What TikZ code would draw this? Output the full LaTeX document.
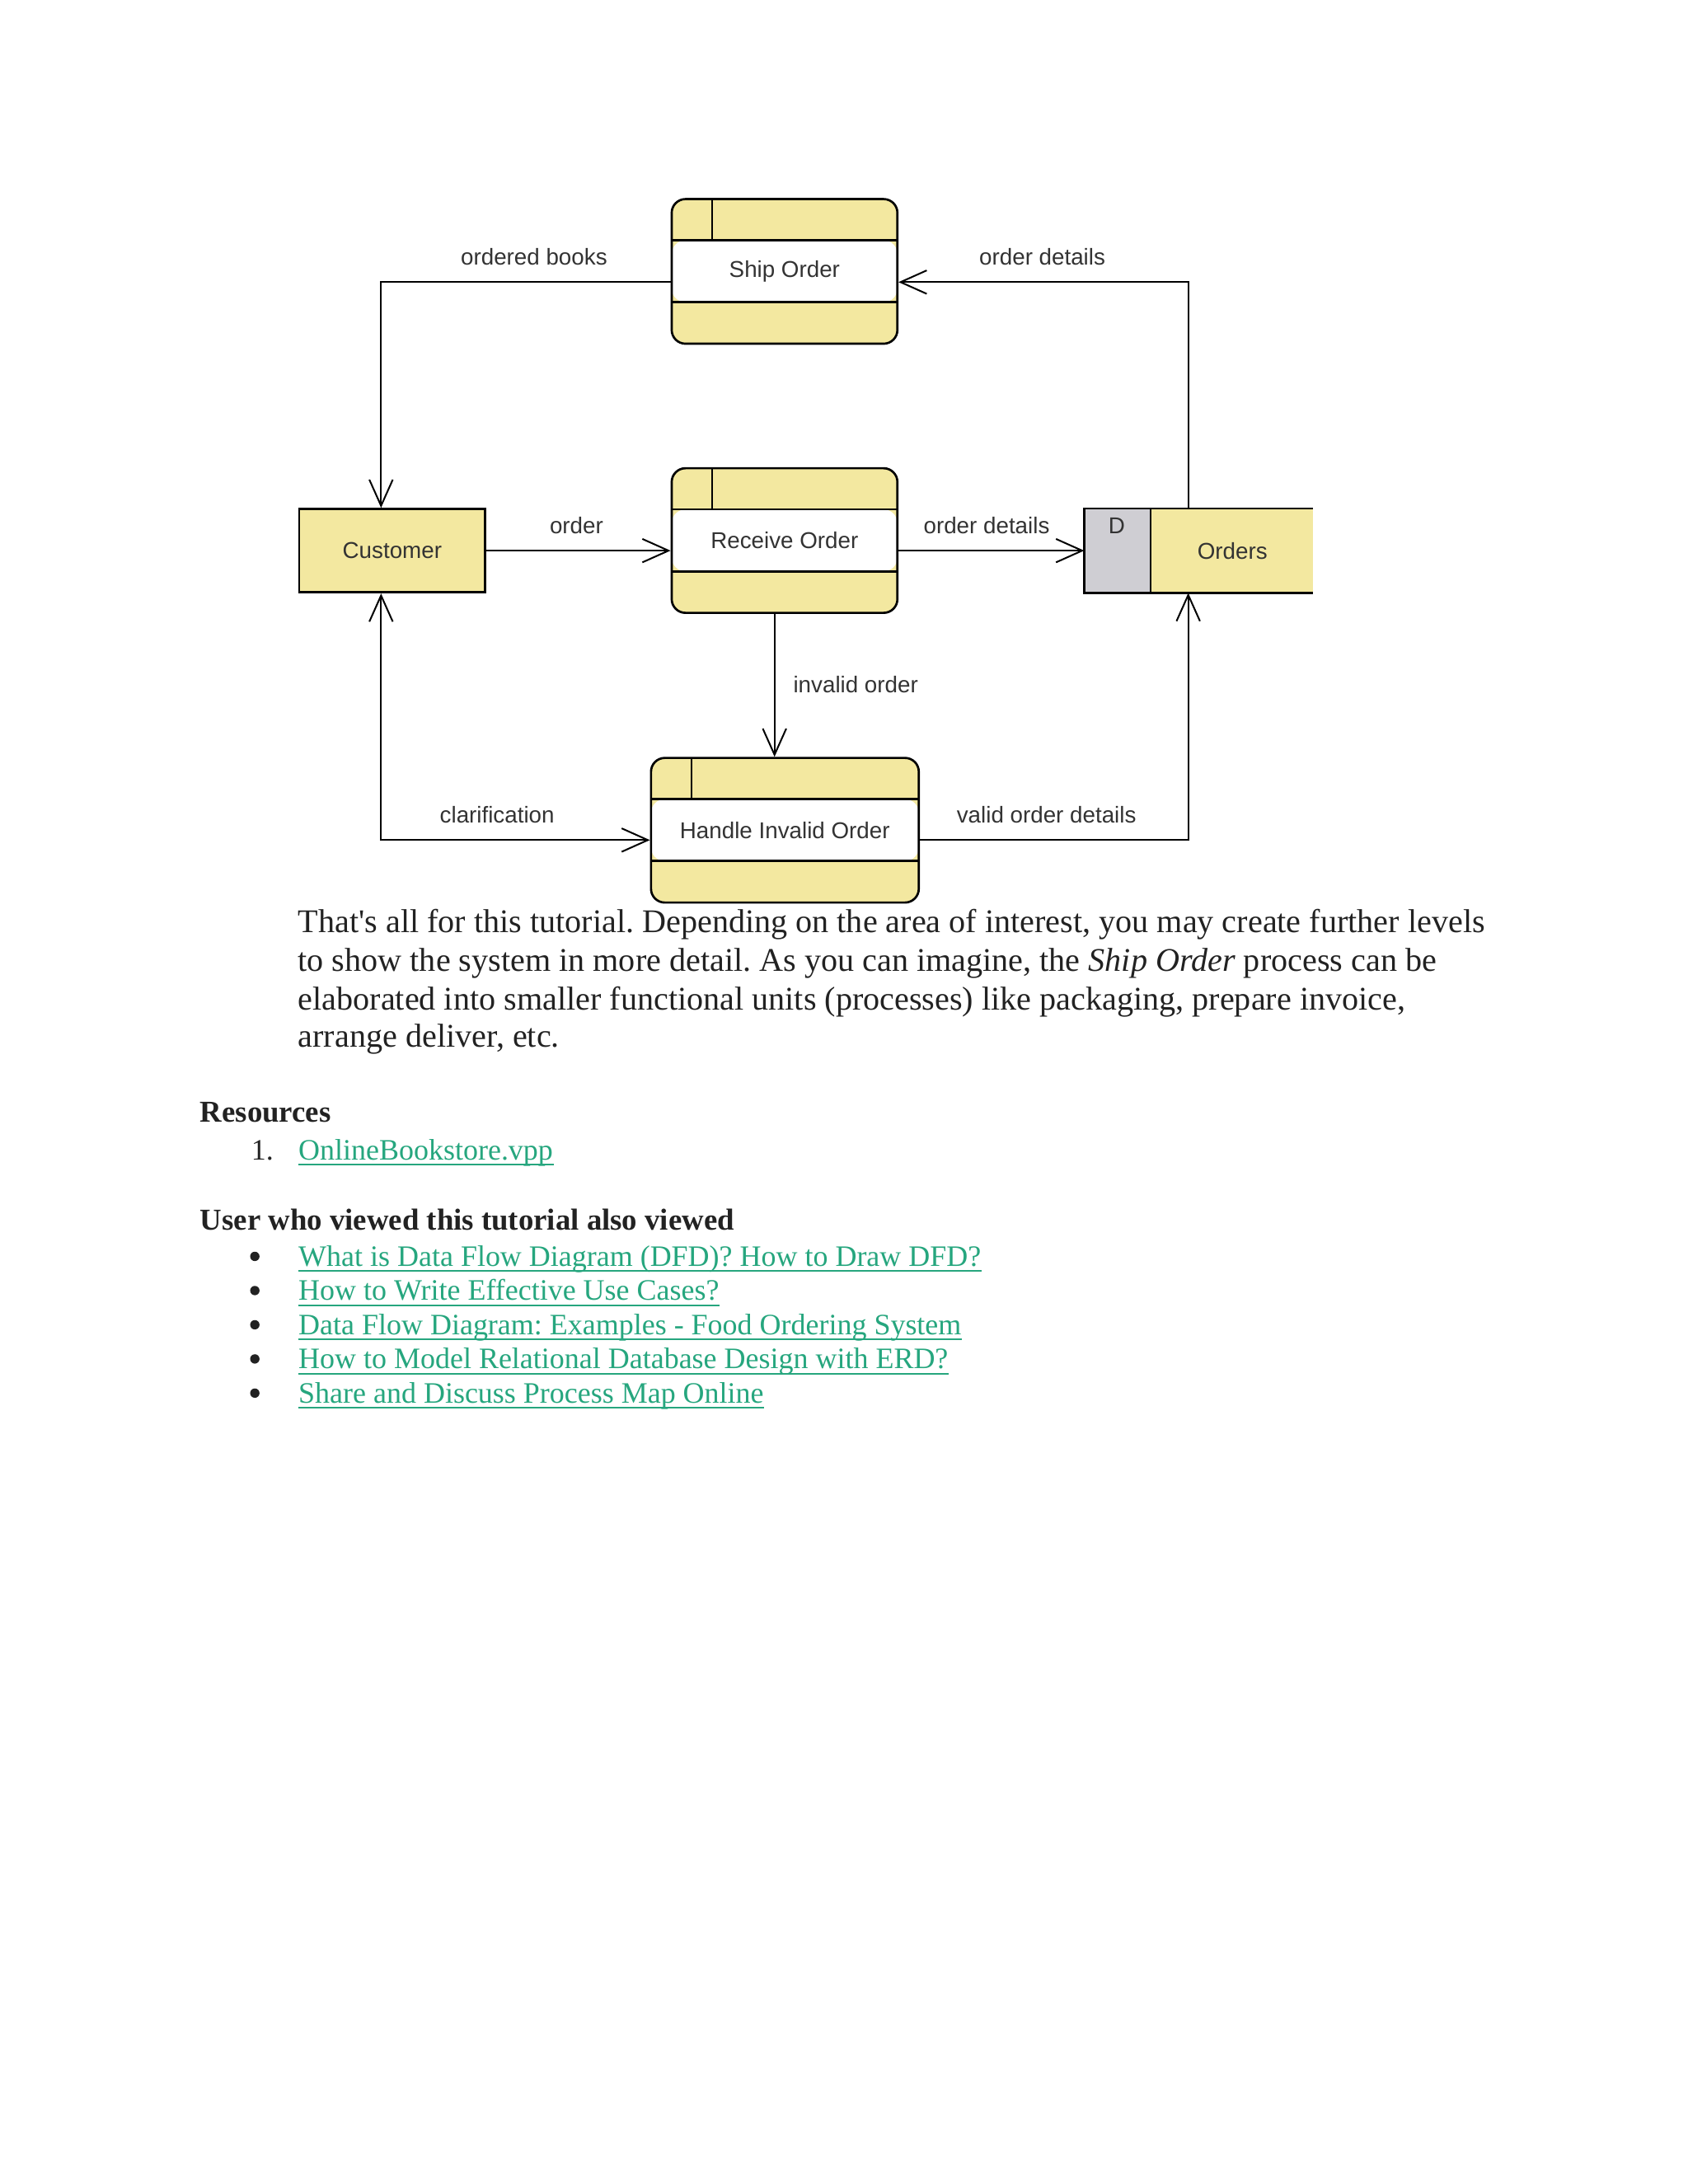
\documentclass[tikz,border=0pt]{standalone}
\usepackage{fontspec}
\setmainfont{Liberation Serif}[Ligatures=TeXOff]
\newfontfamily\labfont{Liberation Sans}
\usetikzlibrary{arrows.meta,calc}
\definecolor{procyellow}{HTML}{F3E8A0}
\definecolor{storegrey}{HTML}{CFCED3}
\definecolor{linkgreen}{HTML}{26A67E}
\definecolor{labgray}{HTML}{333333}
\definecolor{headgray}{HTML}{222222}
\frenchspacing
\begin{document}
\begin{tikzpicture}[x=0.50495pt,y=-0.50495pt,
  lab/.style={font=\labfont\fontsize{8.3}{10}\selectfont, text=labgray, inner sep=0},
  proc/.style={draw, line width=0.8pt, fill=procyellow, rounded corners=5pt,
    minimum width=81.85pt, minimum height=52.45pt, inner sep=0,
    font=\labfont\fontsize{8.3}{10}\selectfont, text=labgray,
    path picture={
      \fill[white] ([yshift=-14.95pt]path picture bounding box.north west) rectangle ([yshift=15.05pt]path picture bounding box.south east);
      \draw[line width=0.8pt] ([yshift=-14.95pt]path picture bounding box.north west) -- ([yshift=-14.95pt]path picture bounding box.north east);
      \draw[line width=0.8pt] ([yshift=15.05pt]path picture bounding box.south west) -- ([yshift=15.05pt]path picture bounding box.south east);
      \draw[line width=0.8pt] ([xshift=14.64pt]path picture bounding box.north west) -- ([xshift=14.64pt,yshift=-14.95pt]path picture bounding box.north west);
    }},
  ext/.style={draw, line width=0.8pt, fill=procyellow, minimum width=67.51pt, minimum height=30.25pt, inner sep=0,
    font=\labfont\fontsize{8.3}{10}\selectfont, text=labgray},
  barb/.tip={Straight Barb[length=9.5pt,width=8.5pt,line width=0.6pt]},
  flow/.style={line width=0.6pt, -barb},
  flow2/.style={line width=0.6pt, barb-barb},
  para/.style={anchor=base west, inner sep=0, font=\fontsize{12}{14}\selectfont, text=headgray},
  head/.style={anchor=base west, inner sep=0, font=\bfseries\fontsize{11}{13}\selectfont, text=headgray},
  link/.style={anchor=base west, inner sep=0, font=\fontsize{10.75}{13}\selectfont, text=linkgreen},
  num/.style={anchor=base west, inner sep=0, font=\fontsize{10.75}{13}\selectfont, text=headgray},
  bul/.style={circle, fill=headgray, inner sep=0, minimum size=3.4pt},
]
\useasboundingbox (0,0) rectangle (1212,1568.5);

% processes
\node[proc] (ship) at (563.4,194.9) {Ship Order};
\node[proc] (receive) at (563.4,388.2) {Receive Order};
\node[proc, minimum width=97.1pt] (handle) at (563.65,596.25) {Handle Invalid Order};

% external entity
\node[ext] (customer) at (281.65,395.45) {Customer};

% data store
\node[fill=procyellow, minimum width=82.61pt, minimum height=30.25pt, inner sep=0] (orders) at (860.8,395.45) {};
\fill[storegrey] (orders.north west) rectangle ($(orders.south west)+(47.6,0)$);
\draw[line width=0.8pt] (orders.north east) -- (orders.north west) -- (orders.south west) -- (orders.south east);
\draw[line width=0.8pt] ($(orders.north west)+(47.6,0)$) -- ($(orders.south west)+(47.6,0)$);
\node[lab] (ordersD) at (802,377.5) {D};
\node[lab] (ordersT) at (885,396) {Orders};

% flows
\draw[flow] ($(ship.west)+(0,7.7)$) -| ($(customer.north)+(-8,0)$);
\draw[flow] ($(orders.north)+(-7.5,0)$) |- ($(ship.east)+(0,7.7)$);
\draw[flow] (customer.east) -- (customer.east -| receive.west);
\draw[flow] (receive.east |- orders.west) -- (orders.west);
\draw[flow] ($(receive.south)+(-7.2,0)$) coordinate (io) -- (io |- handle.north);
\draw[flow2] ($(customer.south)+(-8,0)$) |- ($(handle.west)+(0,7.05)$);
\draw[flow] ($(handle.east)+(0,7.05)$) -| ($(orders.south)+(-7.5,0)$);

% flow labels
\node[lab] (l1) at (383.5,184.5) {ordered books};
\node[lab] (l2) at (748.5,184.5) {order details};
\node[lab] (l3) at (414,377.5) {order};
\node[lab] (l4) at (708.5,377.5) {order details};
\node[lab] (l5) at (614.5,491.5) {invalid order};
\node[lab] (l6) at (357,585) {clarification};
\node[lab] (l7) at (751.5,585) {valid order details};

% text
\node[para] (p1) at (213.7,669.6) {That's all for this tutorial. Depending on the area of interest, you may create further levels};
\node[para] (p2) at (213.7,697.7) {to show the system in more detail. As you can imagine, the \textit{Ship Order} process can be};
\node[para] (p3) at (213.7,725.3) {elaborated into smaller functional units (processes) like packaging, prepare invoice,};
\node[para] (p4) at (213.7,751.9) {arrange deliver, etc.};

\node[head] (h1) at (143.3,806) {Resources};
\node[num] (n1) at (180,833) {1.};
\node[link] (r1) at (214,833) {OnlineBookstore.vpp};
\draw[linkgreen, line width=0.6pt] ($(r1.base west)+(0,3.5)$) -- ($(r1.base east)+(0,3.5)$);

\node[head] (h2) at (143.3,883.5) {User who viewed this tutorial also viewed};
\foreach \t [count=\i] in {What is Data Flow Diagram (DFD)? How to Draw DFD?,
  How to Write Effective Use Cases?,
  Data Flow Diagram: Examples - Food Ordering System,
  How to Model Relational Database Design with ERD?,
  Share and Discuss Process Map Online} {
  \pgfmathsetmacro{\yy}{909.3+(\i-1)*24.55}
  \node[bul] (b\i) at (183,\yy-7) {};
  \node[link] (u\i) at (214,\yy) {\t};
  \draw[linkgreen, line width=0.6pt] ($(u\i.base west)+(0,3.5)$) -- ($(u\i.base east)+(0,3.5)$);
}
\end{tikzpicture}
\end{document}
